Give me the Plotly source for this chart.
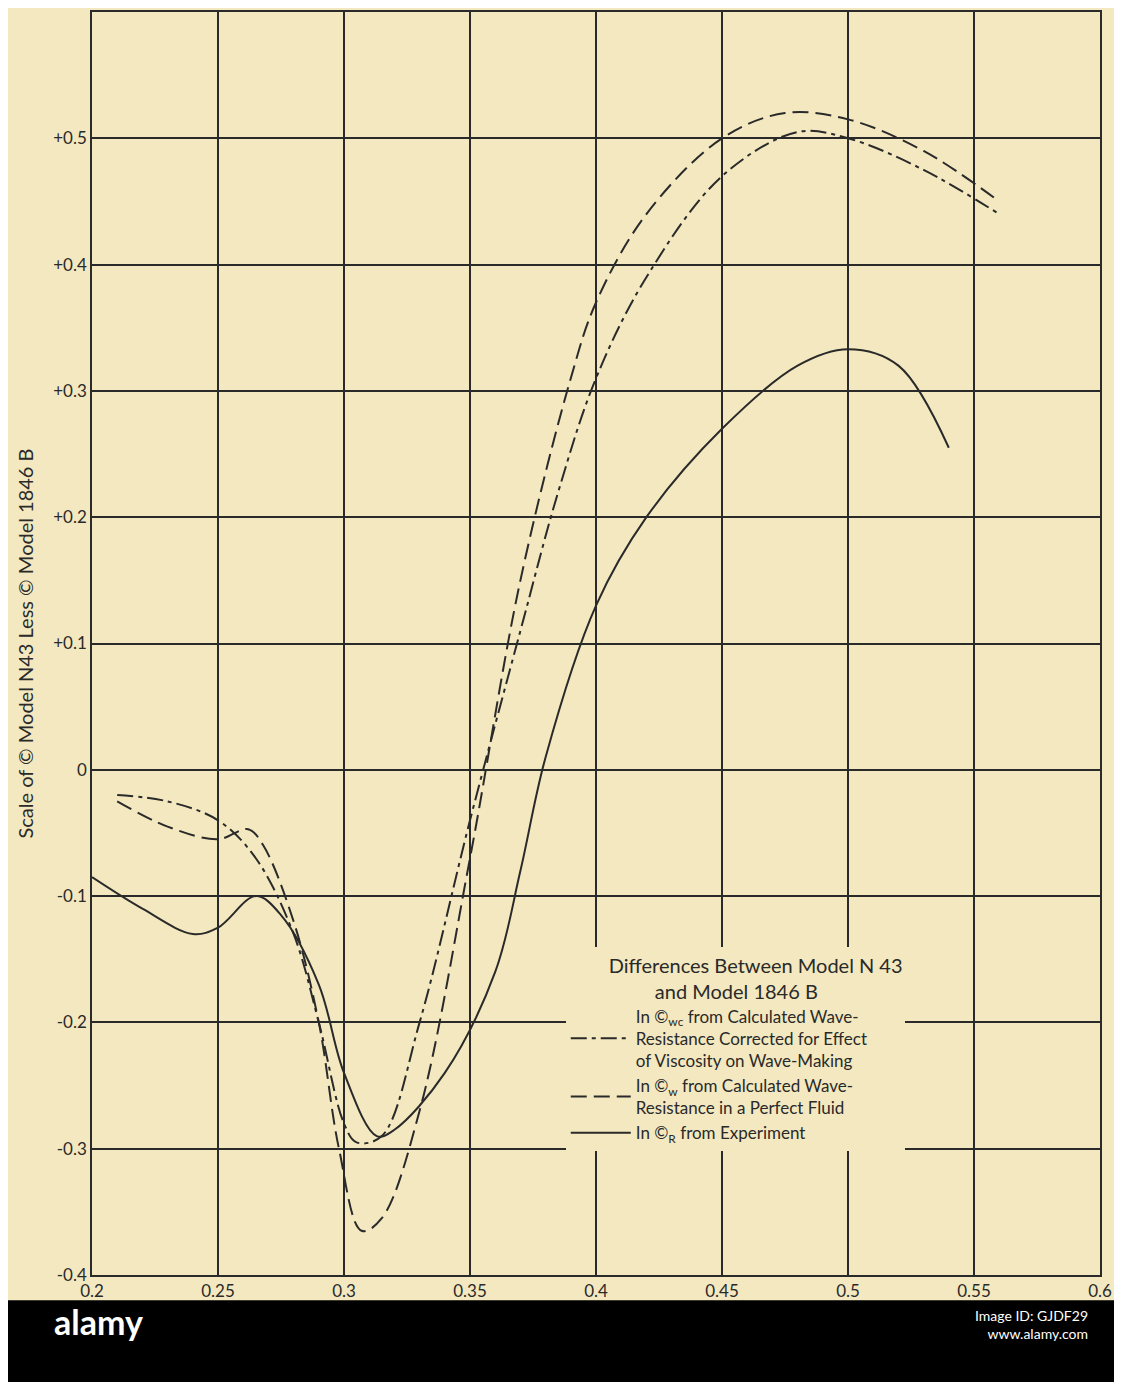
import plotly.graph_objects as go

# In Cw (dashed)
x_w = [0.21, 0.23, 0.25, 0.262, 0.268, 0.28, 0.29, 0.298, 0.307, 0.315, 0.33, 0.35, 0.37, 0.39, 0.40, 0.42, 0.45, 0.475, 0.50, 0.53, 0.56]
y_w = [-0.025, -0.045, -0.055, -0.047, -0.06, -0.12, -0.20, -0.30, -0.365, -0.355, -0.27, -0.07, 0.15, 0.31, 0.37, 0.44, 0.50, 0.52, 0.515, 0.49, 0.45]

# In Cwc (dash-dot)
x_wc = [0.21, 0.23, 0.25, 0.265, 0.28, 0.29, 0.30, 0.305, 0.315, 0.33, 0.35, 0.37, 0.385, 0.40, 0.42, 0.45, 0.48, 0.50, 0.53, 0.56]
y_wc = [-0.02, -0.025, -0.04, -0.07, -0.13, -0.20, -0.28, -0.295, -0.29, -0.20, -0.04, 0.11, 0.22, 0.31, 0.39, 0.47, 0.505, 0.50, 0.475, 0.44]

# In CR from experiment (solid)
x_r = [0.20, 0.22, 0.24, 0.25, 0.265, 0.275, 0.29, 0.30, 0.313, 0.32, 0.34, 0.36, 0.37, 0.38, 0.40, 0.42, 0.45, 0.48, 0.50, 0.52, 0.54]
y_r = [-0.085, -0.11, -0.13, -0.125, -0.10, -0.115, -0.17, -0.24, -0.29, -0.285, -0.24, -0.16, -0.08, 0.01, 0.13, 0.20, 0.27, 0.32, 0.333, 0.32, 0.255]

x_ticks = [0.2, 0.25, 0.3, 0.35, 0.4, 0.45, 0.5, 0.55, 0.6]
x_labels = ["0.2", "0.25", "0.3", "0.35", "0.4", "0.45", "0.5", "0.55", "0.6"]
y_ticks = [-0.4, -0.3, -0.2, -0.1, 0, 0.1, 0.2, 0.3, 0.4, 0.5, 0.6]
y_labels = ["-0.4", "-0.3", "-0.2", "-0.1", "0", "+0.1", "+0.2", "+0.3", "+0.4", "+0.5", "+0.6"]

bg = "#f3e8bf"
ink = "#2a2a2a"

fig = go.Figure()
fig.add_trace(go.Scatter(x=x_wc, y=y_wc, mode="lines", line_shape="spline",
                         line=dict(color=ink, width=2, dash="16px,5px,4px,5px"),
                         name="In ©<sub>wc</sub> from Calculated Wave-<br>Resistance Corrected for Effect<br>of Viscosity on Wave-Making"))
fig.add_trace(go.Scatter(x=x_w, y=y_w, mode="lines", line_shape="spline",
                         line=dict(color=ink, width=2, dash="16px,7px"),
                         name="In ©<sub>w</sub> from Calculated Wave-<br>Resistance in a Perfect Fluid"))
fig.add_trace(go.Scatter(x=x_r, y=y_r, mode="lines", line_shape="spline",
                         line=dict(color=ink, width=2),
                         name="In ©<sub>R</sub> from Experiment"))

fig.update_layout(
    width=1106, height=1374,
    margin=dict(l=84, r=14, t=2, b=107),
    paper_bgcolor=bg, plot_bgcolor=bg,
    font=dict(family="Lato, DejaVu Sans", size=17, color=ink),
    legend=dict(x=0.47, y=0.26, xanchor="left", yanchor="top", bgcolor=bg,
                title=dict(text="        Differences Between Model N 43<br>                 and Model 1846 B", side="top"),
                tracegroupgap=4, font=dict(size=17), itemwidth=60),
    shapes=[
        dict(type="rect", xref="paper", yref="paper", x0=-0.1, x1=1.02, y0=-0.02, y1=-0.1,
             fillcolor="#000000", line_width=0, layer="above"),
    ],
    annotations=[
        dict(text="<b>alamy</b>", xref="paper", yref="paper", x=-0.04, y=-0.055,
             xanchor="left", showarrow=False, font=dict(size=34, color="white")),
        dict(text="Image ID: GJDF29<br>www.alamy.com", xref="paper", yref="paper", x=0.99, y=-0.055,
             xanchor="right", align="right", showarrow=False, font=dict(size=14, color="white")),
    ],
)
fig.update_xaxes(range=[0.2, 0.6], tickvals=x_ticks, ticktext=x_labels, showgrid=True,
                 gridcolor=ink, gridwidth=1.5, showline=True, linecolor=ink, linewidth=1.5,
                 mirror=True, zeroline=False, ticks="")
fig.update_yaxes(range=[-0.4, 0.6], tickvals=y_ticks, ticktext=y_labels, showgrid=True,
                 gridcolor=ink, gridwidth=1.5, showline=True, linecolor=ink, linewidth=1.5,
                 mirror=True, zeroline=False, ticks="",
                 title=dict(text="Scale of © Model N43 Less © Model 1846 B", standoff=14))

fig.write_html("out.html")
